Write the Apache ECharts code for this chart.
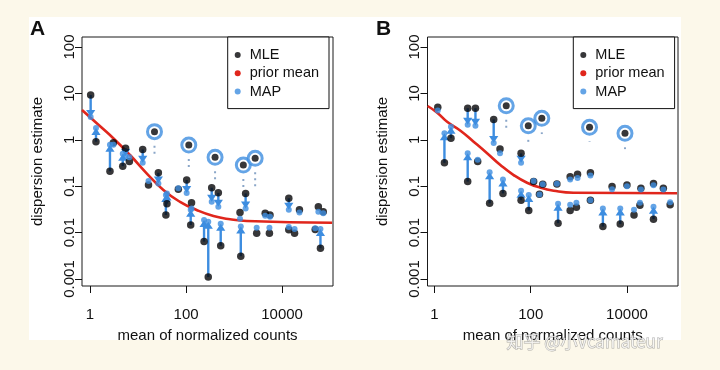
<!DOCTYPE html>
<html><head><meta charset="utf-8">
<script src="https://cdn.jsdelivr.net/npm/echarts@6.0.0/dist/echarts.min.js"></script>
<style>
html,body{margin:0;padding:0;background:#fcf8ea;}
#bg{position:absolute;left:29px;top:17px;width:652px;height:323px;background:#ffffff;}
#c{position:absolute;left:0;top:0;width:720px;height:370px;}
</style>
</head><body><div id="bg"></div><div id="c"></div>
<script>
// ---- tick labels ----
const xTicks = [1, 100, 10000];
const yTicks = [0.001, 0.01, 0.1, 1, 10, 100];

// ---- Panel A ----
const aMean = [1.03, 1.33, 3.06, 2.6, 4.8, 5.5, 6.6, 12.5, 16.5, 26.5, 38, 40, 69, 103, 125, 130, 237, 290, 342, 470, 527, 1380, 1330, 1740, 2960, 4450, 5450, 5600, 13800, 13800, 18200, 23000, 57000, 63000, 49000, 72000];
const aMLE  = [9.2, 0.91, 0.86, 0.21, 0.27, 0.66, 0.34, 0.62, 0.106, 0.195, 0.024, 0.042, 0.086, 0.136, 0.0146, 0.044, 0.0064, 0.0011, 0.093, 0.072, 0.0052, 0.0031, 0.027, 0.07, 0.0097, 0.026, 0.0097, 0.024, 0.055, 0.0115, 0.0097, 0.031, 0.036, 0.0046, 0.0117, 0.028];
const aMAP  = [3.1, 1.8, 0.78, 0.78, 0.5, 0.45, 0.42, 0.32, 0.13, 0.115, 0.065, 0.07, 0.09, 0.071, 0.031, 0.033, 0.0186, 0.0172, 0.046, 0.036, 0.0155, 0.0135, 0.02, 0.033, 0.0127, 0.023, 0.0127, 0.022, 0.031, 0.0133, 0.012, 0.027, 0.028, 0.012, 0.0125, 0.026];
const aOutMean = [22, 114, 402, 1560, 2750];
const aOutMLE  = [1.5, 0.77, 0.42, 0.286, 0.4];
const aOutMAP  = [0.43, 0.245, 0.117, 0.079, 0.087];
const aCurveX = [0.68, 1.38, 3.05, 6.8, 15.1, 33.7, 75, 166, 372, 826, 1840, 110000];
const aCurveY = [4.4, 2.27, 1.08, 0.47, 0.19, 0.083, 0.046, 0.0307, 0.0228, 0.0194, 0.0178, 0.0163];

// ---- Panel B ----
const bMean = [1.17, 1.61, 2.2, 4.9, 4.9, 7.1, 7.9, 14, 17, 23, 26.5, 63, 63, 91, 115, 178, 152, 350, 370, 660, 660, 940, 890, 1740, 1740, 3160, 4900, 7250, 10000, 14000, 18600, 19500, 35600, 35600, 57000, 79000];
const bMLE  = [5.0, 0.32, 1.08, 0.126, 4.8, 4.8, 0.34, 0.043, 2.75, 0.63, 0.07, 0.51, 0.05, 0.03, 0.126, 0.11, 0.067, 0.112, 0.016, 0.16, 0.03, 0.18, 0.035, 0.195, 0.05, 0.0135, 0.098, 0.0153, 0.106, 0.024, 0.039, 0.09, 0.0195, 0.115, 0.09, 0.04];
const bMAP  = [4.3, 1.38, 1.9, 0.51, 2.1, 2.0, 0.37, 0.2, 0.85, 0.51, 0.14, 0.32, 0.08, 0.065, 0.13, 0.11, 0.066, 0.113, 0.042, 0.14, 0.04, 0.15, 0.044, 0.17, 0.05, 0.033, 0.086, 0.033, 0.1, 0.031, 0.044, 0.085, 0.036, 0.105, 0.085, 0.045];
const bOutMean = [31, 89, 170, 1670, 9100];
const bOutMLE  = [5.4, 2.0, 2.9, 1.86, 1.38];
const bOutMAP  = [1.62, 0.9, 1.33, 0.9, 0.63];
const bCurveX = [0.72, 1.14, 1.83, 3.47, 6.5, 12.4, 23.4, 44.2, 83.8, 158, 299, 776, 110000];
const bCurveY = [5.35, 3.84, 2.45, 1.57, 0.91, 0.513, 0.286, 0.174, 0.119, 0.093, 0.08, 0.0724, 0.0703];

const BLUE = '#3d8de0', RED = '#e0261c', BLACK = '#050508', DOT = '#8aa6c8';
const FONT = '"Liberation Sans", Arial, Helvetica, sans-serif';

function pairs(xs, ys) { return xs.map((x, i) => [x, ys[i]]); }
function triples(xs, a, b) { return xs.map((x, i) => [x, a[i], b[i]]); }

function arrowItem(params, api) {
  const x = api.value(0);
  const p0 = api.coord([x, api.value(1)]);
  const p1 = api.coord([x, api.value(2)]);
  const dy = p1[1] - p0[1];
  if (Math.abs(dy) < 7) return { type: 'group', children: [] };
  const dir = dy > 0 ? 1 : -1;
  const head = 7, hw = 4.6;
  return {
    type: 'group', children: [
      { type: 'line', shape: { x1: p0[0], y1: p0[1], x2: p1[0], y2: p1[1] - dir * (head - 1) }, style: { stroke: BLUE, lineWidth: 2.4 } },
      { type: 'polygon', shape: { points: [[p1[0], p1[1]], [p1[0] - hw, p1[1] - dir * head], [p1[0] + hw, p1[1] - dir * head]] }, style: { fill: BLUE } }
    ]
  };
}
function dotItem(params, api) {
  const x = api.value(0);
  const p0 = api.coord([x, api.value(1)]);
  const p1 = api.coord([x, api.value(2)]);
  return { type: 'line', shape: { x1: p0[0], y1: p0[1] + 14, x2: p1[0], y2: p1[1] }, style: { stroke: DOT, lineWidth: 2, lineDash: [2, 4] } };
}

function panelSeries(gi, mean, mle, map, oMean, oMLE, oMAP, cx, cy) {
  const ax = { xAxisIndex: gi, yAxisIndex: gi };
  return [
    Object.assign({ type: 'line', name: 'prior mean', data: pairs(cx, cy), smooth: 0.5, showSymbol: false, symbol: 'none',
      lineStyle: { color: RED, width: 2.6 }, itemStyle: { color: RED }, z: 1, silent: true }, ax),
    Object.assign({ type: 'custom', name: 'outlierDots', renderItem: dotItem, data: triples(oMean, oMLE, oMAP), encode: { x: 0, y: [1, 2] }, z: 2, silent: true }, ax),
    Object.assign({ type: 'custom', name: 'arrows', renderItem: arrowItem, data: triples(mean, mle, map), encode: { x: 0, y: [1, 2] }, z: 3, silent: true }, ax),
    Object.assign({ type: 'scatter', name: 'MLE', data: pairs(mean, mle), symbol: 'circle', symbolSize: 7.5, itemStyle: { color: BLACK }, z: 4, silent: true }, ax),
    Object.assign({ type: 'scatter', name: 'MAP', data: pairs(mean, map), symbol: 'circle', symbolSize: 6, itemStyle: { color: BLUE }, z: 5, silent: true }, ax),
    Object.assign({ type: 'scatter', name: 'outlier', data: pairs(oMean, oMLE), symbol: 'circle', symbolSize: 14, itemStyle: { color: '#ffffff', borderColor: BLUE, borderWidth: 3 }, z: 6, silent: true }, ax),
    Object.assign({ type: 'scatter', name: 'MLE', data: pairs(oMean, oMLE), symbol: 'circle', symbolSize: 7, itemStyle: { color: BLACK }, z: 7, silent: true }, ax)
  ];
}

function xAxis(gi, min) {
  return {
    type: 'log', logBase: 10, gridIndex: gi, min: min, max: 115000,
    name: 'mean of normalized counts', nameLocation: 'middle', nameGap: 42,
    nameTextStyle: { fontSize: 15, color: '#111', fontFamily: FONT },
    axisLine: { show: false },
    axisTick: { show: true, length: 7, customValues: xTicks, lineStyle: { color: '#111', width: 1 } },
    axisLabel: { customValues: xTicks, margin: 21, fontSize: 15, color: '#111', fontFamily: FONT, formatter: v => String(v) },
    splitLine: { show: false }, minorTick: { show: false }
  };
}
function yAxis(gi) {
  return {
    type: 'log', logBase: 10, gridIndex: gi, min: 0.000708, max: 164,
    name: 'dispersion estimate', nameLocation: 'middle', nameGap: 37,
    nameTextStyle: { fontSize: 15, color: '#111', fontFamily: FONT },
    axisLine: { show: false },
    axisTick: { show: true, length: 7, customValues: yTicks, lineStyle: { color: '#111', width: 1 } },
    axisLabel: { customValues: yTicks, rotate: 90, margin: 5, fontSize: 15, color: '#111', fontFamily: FONT, formatter: v => String(v) },
    splitLine: { show: false }, minorTick: { show: false }
  };
}
function legend(left) {
  return {
    left: left, top: 37, orient: 'vertical', padding: [10, 10, 9, 7], itemGap: 2.3,
    itemWidth: 14, itemHeight: 6, backgroundColor: '#fff', borderColor: '#111', borderWidth: 1,
    selectedMode: false,
    textStyle: { fontSize: 14.5, color: '#111', fontFamily: FONT, lineHeight: 16 },
    data: [{ name: 'MLE', icon: 'circle' }, { name: 'prior mean', icon: 'circle' }, { name: 'MAP', icon: 'circle' }]
  };
}

const chart = echarts.init(document.getElementById('c'), null, { renderer: 'canvas' });
chart.setOption({
  backgroundColor: 'transparent',
  animation: false,
  grid: [
    { left: 82, top: 37, width: 251, height: 249, show: true, backgroundColor: '#fff', borderColor: '#1a1a1a', borderWidth: 1 },
    { left: 427.5, top: 37, width: 250.5, height: 249, show: true, backgroundColor: '#fff', borderColor: '#1a1a1a', borderWidth: 1 }
  ],
  xAxis: [xAxis(0, 0.68), xAxis(1, 0.716)],
  yAxis: [yAxis(0), yAxis(1)],
  legend: [legend(227.7), legend(573.3)],
  series: [].concat(
    panelSeries(0, aMean, aMLE, aMAP, aOutMean, aOutMLE, aOutMAP, aCurveX, aCurveY),
    panelSeries(1, bMean, bMLE, bMAP, bOutMean, bOutMLE, bOutMAP, bCurveX, bCurveY)
  ),
  graphic: [
    { type: 'text', left: 30, top: 19, style: { text: 'A', font: 'bold 21px ' + FONT, fill: '#111' } },
    { type: 'text', left: 376, top: 19, style: { text: 'B', font: 'bold 21px ' + FONT, fill: '#111' } },
    { type: 'text', left: 506, top: 333, z: 100, style: { text: '知乎 @小Vcamateur', font: '17px "Noto Sans CJK SC", sans-serif', fill: 'rgba(255,255,255,0.75)', stroke: 'rgba(110,110,110,0.55)', lineWidth: 1 } }
  ]
});
</script>
</body></html>
